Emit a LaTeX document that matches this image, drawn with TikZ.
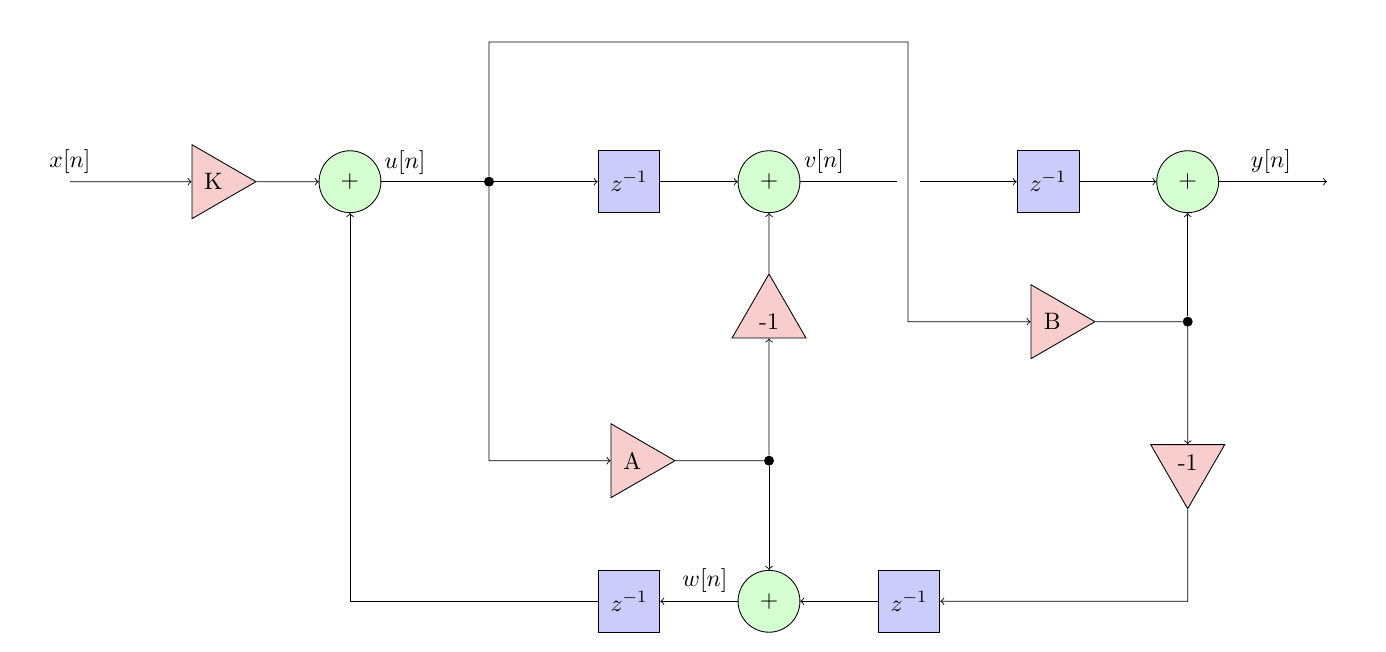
\documentclass[tikz,border=0pt,11pt]{standalone}
\usetikzlibrary{shapes.geometric}
\definecolor{gainfill}{RGB}{247,205,205}
\definecolor{sumfill}{RGB}{213,255,209}
\definecolor{delayfill}{RGB}{204,204,250}
\tikzset{
  sumnode/.style={circle,draw,fill=sumfill,minimum size=1cm,inner sep=0pt},
  delaybox/.style={rectangle,draw,fill=delayfill,minimum size=1cm,inner sep=0pt},
  gaintri/.style={regular polygon,regular polygon sides=3,draw,fill=gainfill,minimum size=39.3pt,inner sep=0pt},
  junction/.style={circle,fill=black,minimum size=4.6pt,inner sep=0pt},
  sig/.style={draw=none,fill=none,inner sep=0pt},
  wire/.style={draw,->},
  plainwire/.style={draw}
}
\begin{document}
\begin{tikzpicture}[x=0.46pt,y=-0.46pt]
\useasboundingbox (0,0) rectangle (1386,652);
% gains
\node[gaintri,shape border rotate=-90] (K) at (213.3,181.7) {K\hspace{3.2pt}};
\node[gaintri,shape border rotate=-90] (A) at (632.3,460.7) {A\hspace{3.2pt}};
\node[gaintri,shape border rotate=-90] (B) at (1052.3,321.7) {B\hspace{3.2pt}};
\node[gaintri] (M1) at (769,316.7) {\raisebox{-5.8pt}[0pt][0pt]{-1}};
\node[gaintri,shape border rotate=180] (M2) at (1187.7,466) {\raisebox{-2.1pt}[0pt][0pt]{-1}};
% sums
\node[sumnode] (S1) at (350,181.7) {$+$};
\node[sumnode] (S2) at (769,181.7) {$+$};
\node[sumnode] (S3) at (1187.7,181.7) {$+$};
\node[sumnode] (S4) at (769,601.3) {$+$};
% delays
\node[delaybox] (Z1) at (629,181.7) {$z^{-1}$};
\node[delaybox] (Z2) at (1048,181.7) {$z^{-1}$};
\node[delaybox] (Z3) at (909,601.3) {$z^{-1}$};
\node[delaybox] (Z4) at (629,601.3) {$z^{-1}$};
% junctions
\node[junction] (J1) at (489,181.7) {};
\node[junction] (J2) at (1187.7,321.7) {};
\node[junction] (J3) at (769,460.7) {};
% free ends
\coordinate (in) at (70,181.7);
\coordinate (out) at (1327,181.7);
\coordinate (gapL) at (897,181.7);
\coordinate (gapR) at (920,181.7);
\coordinate (topL) at (489,42);
\coordinate (topR) at (908,42);
\coordinate (midR) at (908,321.7);
\coordinate (lowL) at (489,460.7);
\coordinate (botL) at (350,601.3);
\coordinate (botR) at (1187.7,601.3);
% labels
\node[sig] (lx) at (70,162) {$x[n]$};
\node[sig] (lu) at (405,163) {$u[n]$};
\node[sig] (lv) at (824,162) {$v[n]$};
\node[sig] (ly) at (1271,162) {$y[n]$};
\node[sig] (lw) at (705,581) {$w[n]$};
% connectors
\path[wire] (in) -- (K);
\path[wire] (K) -- (S1);
\path[plainwire] (S1) -- (J1);
\path[wire] (J1) -- (Z1);
\path[wire] (Z1) -- (S2);
\path[plainwire] (S2) -- (gapL);
\path[wire] (gapR) -- (Z2);
\path[wire] (Z2) -- (S3);
\path[wire] (S3) -- (out);
\path[wire] (J1) -- (topL) -- (topR) -- (midR) -- (B);
\path[plainwire] (B) -- (J2);
\path[wire] (J2) -- (S3);
\path[wire] (J2) -- (M2);
\path[wire] (M2) -- (botR) -- (Z3);
\path[wire] (Z3) -- (S4);
\path[wire] (S4) -- (Z4);
\path[wire] (Z4) -- (botL) -- (S1);
\path[wire] (J1) -- (lowL) -- (A);
\path[plainwire] (A) -- (J3);
\path[wire] (J3) -- (M1);
\path[wire] (J3) -- (S4);
\path[wire] (M1) -- (S2);
\end{tikzpicture}
\end{document}
